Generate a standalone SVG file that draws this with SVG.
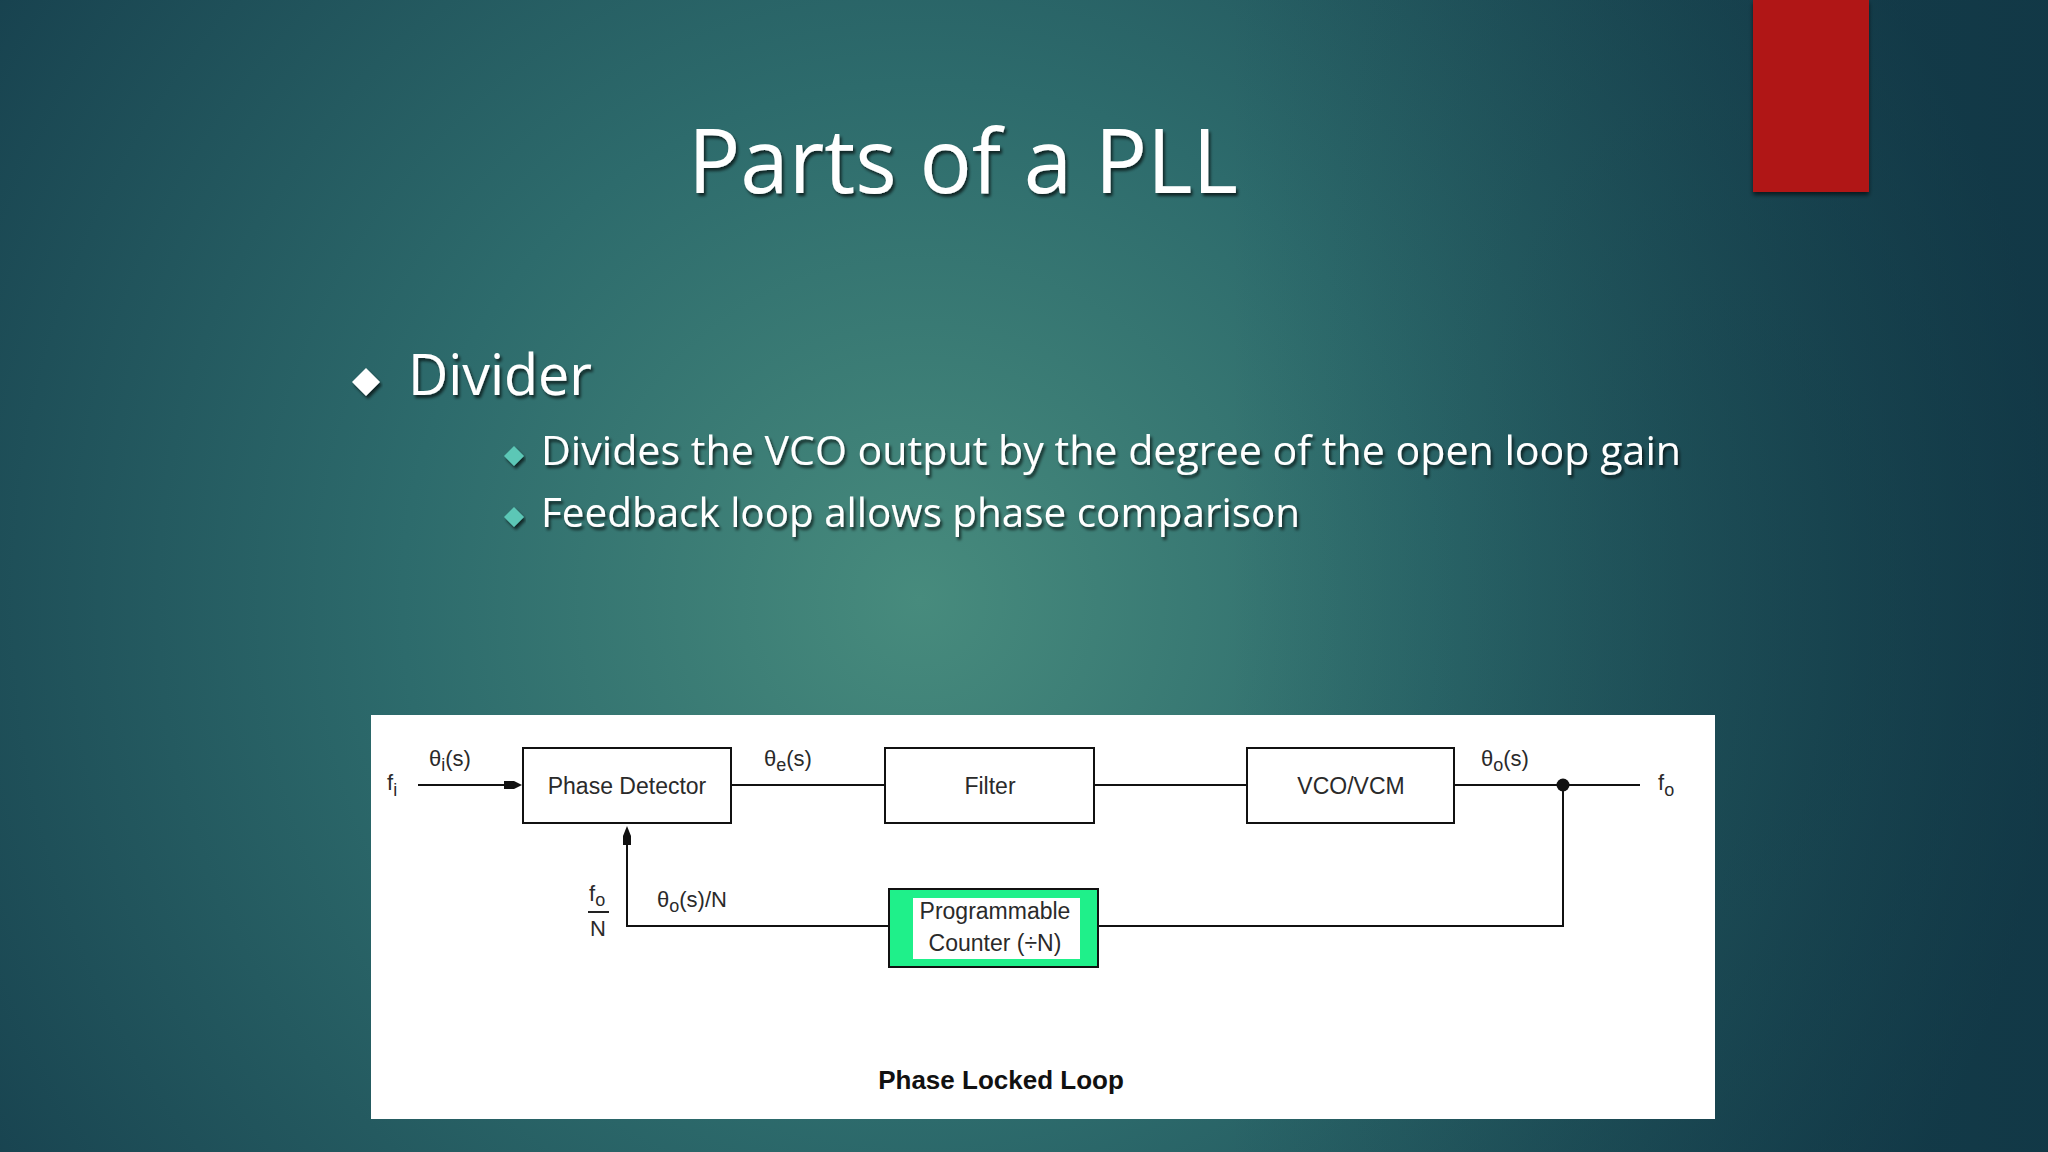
<svg xmlns="http://www.w3.org/2000/svg" width="2048" height="1152" viewBox="0 0 2048 1152">
<defs>
<radialGradient id="bg" cx="920" cy="600" r="1150" gradientUnits="userSpaceOnUse">
<stop offset="0" stop-color="#478b7d"/>
<stop offset="0.45" stop-color="#2d6b6c"/>
<stop offset="1" stop-color="#163f4d"/>
</radialGradient>
<linearGradient id="tr" x1="0" y1="0" x2="1" y2="0">
<stop offset="0" stop-color="#0f3442" stop-opacity="0"/>
<stop offset="0.6" stop-color="#0f3442" stop-opacity="0"/>
<stop offset="1" stop-color="#0f3442" stop-opacity="0.6"/>
</linearGradient>
<filter id="sh" x="-10%" y="-20%" width="120%" height="150%">
<feDropShadow dx="2" dy="3" stdDeviation="1.5" flood-color="#000" flood-opacity="0.65"/>
</filter>
<filter id="rsh" x="-10%" y="-10%" width="130%" height="130%">
<feDropShadow dx="0" dy="3" stdDeviation="2" flood-color="#000" flood-opacity="0.6"/>
</filter>
<style>
.slide{font-family:"Open Sans","Noto Sans",sans-serif;fill:#ffffff}
.d{font-family:"Liberation Sans",Arial,sans-serif;fill:#2a2a2a;font-size:23px}
.lbl{font-family:"Liberation Sans",Arial,sans-serif;fill:#2a2a2a;font-size:22px}
.sub{font-size:18px}
.box{fill:#fff;stroke:#111;stroke-width:2}
.wire{fill:none;stroke:#111;stroke-width:2}
</style>
</defs>
<rect width="2048" height="1152" fill="url(#bg)"/>
<rect width="2048" height="1152" fill="url(#tr)"/>
<rect x="1753" y="0" width="116" height="192" fill="#b01816" filter="url(#rsh)"/>

<text class="slide" x="963" y="193" font-size="90" textLength="550" lengthAdjust="spacingAndGlyphs" text-anchor="middle" filter="url(#sh)">Parts of a PLL</text>

<polygon points="366,368 380,382 366,396 352,382" fill="#ffffff" filter="url(#sh)"/>
<text class="slide" x="408" y="395" font-size="56" textLength="184" lengthAdjust="spacingAndGlyphs" filter="url(#sh)">Divider</text>
<polygon points="514,446 524,456 514,466 504,456" fill="#5bc7b6" filter="url(#sh)"/>
<text class="slide" x="541" y="465" font-size="40" textLength="1140" lengthAdjust="spacingAndGlyphs" filter="url(#sh)">Divides the VCO output by the degree of the open loop gain</text>
<polygon points="514,507 524,517 514,527 504,517" fill="#5bc7b6" filter="url(#sh)"/>
<text class="slide" x="541" y="527" font-size="40" textLength="759" lengthAdjust="spacingAndGlyphs" filter="url(#sh)">Feedback loop allows phase comparison</text>

<rect x="371" y="715" width="1344" height="404" fill="#ffffff"/>

<g id="connectors">
<line class="wire" x1="418" y1="785" x2="506" y2="785"/>
<polygon points="504,781 514,781 522,785 514,789 504,789" fill="#111"/>
<line class="wire" x1="731" y1="785" x2="885" y2="785"/>
<line class="wire" x1="1094" y1="785" x2="1247" y2="785"/>
<line class="wire" x1="1454" y1="785" x2="1640" y2="785"/>
<circle cx="1563" cy="785" r="6.5" fill="#111"/>
<path class="wire" d="M1563,785 V926 H1098"/>
<path class="wire" d="M889,926 H627 V840"/>
<polygon points="623,845 623,836 627,826 631,836 631,845" fill="#111"/>
</g>

<g id="phase-detector">
<rect class="box" x="523" y="748" width="208" height="75"/>
<text class="d" x="627" y="794" text-anchor="middle">Phase Detector</text>
</g>
<g id="filter">
<rect class="box" x="885" y="748" width="209" height="75"/>
<text class="d" x="990" y="794" text-anchor="middle">Filter</text>
</g>
<g id="vco">
<rect class="box" x="1247" y="748" width="207" height="75"/>
<text class="d" x="1351" y="794" text-anchor="middle">VCO/VCM</text>
</g>
<g id="counter">
<rect x="889" y="889" width="209" height="78" fill="#1ff08a" stroke="#111" stroke-width="2"/>
<rect x="913" y="898" width="167" height="61" fill="#ffffff"/>
<text class="d" x="995" y="919" text-anchor="middle">Programmable</text>
<text class="d" x="995" y="951" text-anchor="middle">Counter (÷N)</text>
</g>

<g id="labels">
<text class="lbl" x="387" y="790">f<tspan class="sub" dy="6">i</tspan></text>
<text class="lbl" x="429" y="766">θ<tspan class="sub" dy="5">i</tspan><tspan dy="-5">(s)</tspan></text>
<text class="lbl" x="764" y="766">θ<tspan class="sub" dy="5">e</tspan><tspan dy="-5">(s)</tspan></text>
<text class="lbl" x="1481" y="766">θ<tspan class="sub" dy="5">o</tspan><tspan dy="-5">(s)</tspan></text>
<text class="lbl" x="1658" y="790">f<tspan class="sub" dy="6">o</tspan></text>
<text class="lbl" x="589" y="901">f<tspan class="sub" dy="5">o</tspan></text>
<line x1="588" y1="912" x2="609" y2="912" stroke="#222" stroke-width="2"/>
<text class="lbl" x="598" y="936" text-anchor="middle">N</text>
<text class="lbl" x="657" y="907">θ<tspan class="sub" dy="5">o</tspan><tspan dy="-5">(s)/N</tspan></text>
<text x="1001" y="1089" font-family="Liberation Sans, Arial, sans-serif" font-size="26" font-weight="bold" fill="#111" text-anchor="middle">Phase Locked Loop</text>
</g>
</svg>
